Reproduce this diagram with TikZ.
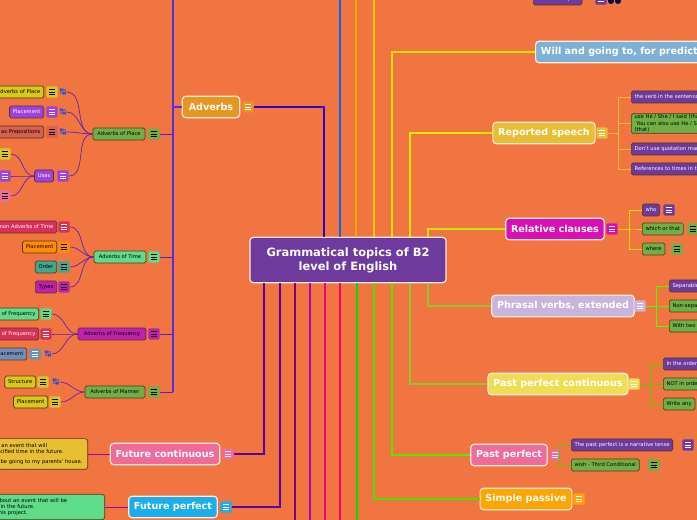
\documentclass[tikz,border=0pt]{standalone}
\usepackage{fontspec}
\setmainfont{DejaVu Sans}
\begin{document}
\begin{tikzpicture}[x=0.75pt,y=-0.75pt,
  main/.style={rounded corners=2.5pt,draw=white!85!orange,line width=0.9pt,text=white,font=\bfseries\fontsize{7.2}{8.5}\selectfont,minimum height=16pt,inner xsep=4pt},
  sm/.style={rounded corners=1.2pt,draw=black!55!brown,line width=0.5pt,font=\fontsize{3.9}{4.6}\selectfont,minimum height=9pt,inner xsep=2.5pt,inner ysep=1pt},
  ic/.style={minimum size=8.5pt,inner sep=0pt,rounded corners=1pt,path picture={\foreach \yy in {-1.8,0,1.8}\draw[line width=0.55pt,#1] ([xshift=-2.4pt,yshift=\yy pt]path picture bounding box.center) -- ++(4.8pt,0);}},
  lk/.style={text=blue!70!cyan,font=\bfseries\fontsize{6}{6}\selectfont,inner sep=0pt},
  cn/.style={line width=0.9pt},
  tn/.style={line width=0.5pt}]
\definecolor{bg}{HTML}{F07540}
\definecolor{pur}{HTML}{6E3A9E}
\definecolor{grn}{HTML}{6FAF45}
\definecolor{ylw}{HTML}{D8C81A}
\definecolor{lblue}{HTML}{7FB1D6}
\definecolor{gold}{HTML}{E8BE35}
\definecolor{mag}{HTML}{D90FB5}
\definecolor{lav}{HTML}{C8B4DC}
\definecolor{pyel}{HTML}{EEDD55}
\definecolor{pink}{HTML}{F06A9A}
\definecolor{org}{HTML}{FFA500}
\definecolor{adv}{HTML}{E8961E}
\definecolor{cyanb}{HTML}{1AAEEA}
\definecolor{mint}{HTML}{5EDC8A}
\definecolor{lpur}{HTML}{A040E0}
\definecolor{red1}{HTML}{D8305A}
\definecolor{sal}{HTML}{D86050}
\definecolor{teal1}{HTML}{40A890}
\definecolor{mag2}{HTML}{C020B0}
\definecolor{bgray}{HTML}{7090B8}
\definecolor{lnblue}{HTML}{5030E0}
\fill[bg] (0,0) rectangle (697,520);
\useasboundingbox (0,0) rectangle (697,520);

% ---------- center ----------
\node[main,fill=pur,minimum width=147pt,minimum height=34pt,align=center,font=\bfseries\fontsize{8.6}{10.5}\selectfont] (c) at (348,260) {Grammatical topics of B2\\level of English};

% ---------- right main nodes ----------
\node[sm,fill=pur,text=white,anchor=west] (wp) at (533,-1) {will' for the past};
\node[ic=white,fill=pur] (wpi) at (601,-1) {};
\fill[black!70!blue] (611,1) circle (3) (618,1) circle (3);

\node[main,fill=lblue,anchor=west,minimum width=130pt] (wg) at (535,52) {Will and going to, for predictions};
\node[main,fill=gold,minimum width=75pt] (rs) at (544,133) {Reported speech};
\node[ic=white,fill=gold] (rsi) at (602,133) {};
\node[main,fill=mag,minimum width=73pt] (rc) at (555,229) {Relative clauses};
\node[ic=white,fill=mag] (rci) at (612,229) {};
\node[main,fill=lav,minimum width=103pt] (pv) at (563,306) {Phrasal verbs, extended};
\node[ic=white,fill=lav] (pvi) at (640,306) {};
\node[main,fill=pyel,minimum width=101pt] (ppc) at (558,384) {Past perfect continuous};
\node[ic=white,fill=pyel] (ppci) at (634,384) {};
\node[main,fill=pink,minimum width=57pt] (pp) at (509,455) {Past perfect};
\node[ic=white,fill=pink] (ppi) at (555,455) {};
\node[main,fill=org,minimum width=67pt] (sp) at (526,499) {Simple passive};
\node[ic=white,fill=org] (spi) at (579,499) {};

% ---------- left main nodes ----------
\node[main,fill=adv,minimum width=43pt] (ad) at (211,107) {Adverbs};
\node[ic=white,fill=adv] (adi) at (248,107) {};
\node[main,fill=pink,minimum width=81pt] (fc) at (165,454) {Future continuous};
\node[ic=white,fill=pink] (fci) at (228,454) {};
\node[main,fill=cyanb,minimum width=66pt] (fp) at (173,507) {Future perfect};
\node[ic=white,fill=cyanb] (fpi) at (226,507) {};

% ---------- center trunks top ----------
\draw[cn,blue!60!violet] (c.north -| 324,0) |- (adi.east);
\draw[cn,blue!60!cyan] (c.north -| 340,0) -- (340,0);
\draw[cn,orange!70!yellow] (c.north -| 356,0) -- (356,0);
\draw[cn,orange!40!yellow] (c.north -| 374,0) -- (374,0);
\draw[cn,yellow!85!orange] (c.north -| 392,0) |- (wg.west);
\draw[cn,yellow!90!orange] (c.north -| 410,0) |- (rs.west);
\draw[cn,yellow!80!green] (c.north -| 428,0) |- (rc.west);
% ---------- center trunks bottom ----------
\draw[cn,violet!70!blue] (c.south -| 264,0) |- (fci.east);
\draw[cn,violet!70!blue] (c.south -| 280,0) |- (fpi.east);
\draw[cn,violet] (c.south -| 295,0) -- (295,520);
\draw[cn,violet!60!magenta] (c.south -| 310,0) -- (310,520);
\draw[cn,magenta] (c.south -| 325,0) -- (325,520);
\draw[cn,magenta!70!red] (c.south -| 340,0) -- (340,520);
\draw[cn,green!80!black!70!green] (c.south -| 357,0) -- (357,520);
\draw[cn,green!70!yellow!90!black] (c.south -| 374,0) |- (sp.west);
\draw[cn,green!60!yellow!90!black] (c.south -| 392,0) |- (pp.west);
\draw[cn,yellow!60!green!90!black] (c.south -| 410,0) |- (ppc.west);
\draw[cn,yellow!60!green!90!black] (c.south -| 428,0) |- (pv.west);

% ---------- reported speech children ----------
\node[sm,fill=pur,text=white,anchor=west] (r1) at (631,97) {the verb in the sentence changes};
\node[sm,fill=grn,anchor=west,align=left,text width=70pt] (r2) at (631,123.5) {use He / She / I said (that)\\\ You can also use He / She told me\\(that)};
\node[sm,fill=pur,text=white,anchor=west] (r3) at (631,149) {Don't use quotation marks};
\node[sm,fill=pur,text=white,anchor=west] (r4) at (631,169) {References to times in the sentence};
\foreach \n in {r1,r2,r3,r4} \draw[tn,gold] (rsi.east) -| (618,0 |- \n.west) -- (\n.west);

% ---------- relative clauses children ----------
\node[sm,fill=pur,text=white,anchor=west] (q1) at (642,210) {who};
\node[ic=white,fill=pur] (q1i) at (669,210) {};
\node[sm,fill=grn,anchor=west] (q2) at (642,229) {which or that};
\node[ic=black,fill=grn] (q2i) at (693,229) {};
\node[sm,fill=grn,anchor=west] (q3) at (642,249) {where};
\node[ic=black,fill=grn] (q3i) at (677,249) {};
\foreach \n in {q1,q2,q3} \draw[tn,yellow!80!orange] (rci.east) -| (629,0 |- \n.west) -- (\n.west);

% ---------- phrasal verbs children ----------
\node[sm,fill=pur,text=white,anchor=west] (h1) at (669,286) {Separable};
\node[sm,fill=grn,anchor=west] (h2) at (669,306) {Non-separable};
\node[sm,fill=grn,anchor=west] (h3) at (669,326) {With two particles};
\foreach \n in {h1,h2,h3} \draw[tn,green!70!yellow] (pvi.east) -| (656,0 |- \n.west) -- (\n.west);

% ---------- past perfect continuous children ----------
\node[sm,fill=pur,text=white,anchor=west] (k1) at (663,364) {In the order};
\node[sm,fill=grn,anchor=west] (k2) at (663,384) {NOT in order};
\node[sm,fill=grn,anchor=west] (k3) at (663,404) {Write any};
\foreach \n in {k1,k2,k3} \draw[tn,green!60!yellow!80!black] (ppci.east) -| (650,0 |- \n.west) -- (\n.west);

% ---------- past perfect children ----------
\node[sm,fill=pur,text=white,anchor=west] (p1) at (571,445) {The past perfect is a narrative tense};
\node[ic=white,fill=pur] (p1i) at (688,445) {};
\node[sm,fill=grn,anchor=west] (p2) at (571,465) {wish - Third Conditional};
\node[ic=black,fill=grn] (p2i) at (654,465) {};
\foreach \n in {p1,p2} \draw[tn,green!60!yellow!80!black] (ppi.east) -| (559,0 |- \n.west) -- (\n.west);

% ---------- adverbs subtree ----------
\draw[cn,lnblue] (173,0) -- (173,392);
\draw[cn,lnblue] (ad.west) -- (173,107);
\node[sm,fill=grn,minimum width=39pt] (ap) at (119,134) {Adverbs of Place};
\node[ic=black,fill=grn] (api) at (154,134) {};
\node[sm,fill=mint,minimum width=39pt] (at) at (120,257) {Adverbs of Time};
\node[ic=black,fill=mint] (ati) at (154,257) {};
\node[sm,fill=mag2,minimum width=51pt] (af) at (112,334) {Adverbs of Frequency};
\node[ic=black,fill=mag2] (afi) at (154,334) {};
\node[sm,fill=grn,minimum width=45pt] (am) at (115,392) {Adverbs of Manner};
\node[ic=black,fill=grn] (ami) at (154,392) {};
\foreach \n in {api,ati,afi,ami} \draw[tn,lnblue!70!violet] (\n.east) -- (173,0 |- \n.east);

% place children
\node[sm,fill=ylw,anchor=east] (a1) at (44,92) {Types of Adverbs of Place};
\node[ic=black,fill=ylw] (a1i) at (52,92) {};
\node[lk] (a1l) at (63,92) {\char"21B9};
\node[sm,fill=lpur,text=white,anchor=east] (a2) at (44,112) {Placement};
\node[ic=white,fill=lpur] (a2i) at (52,112) {};
\node[lk] (a2l) at (63,112) {\char"21B9};
\node[sm,fill=sal,anchor=east] (a3) at (44,132) {Adverbs as Prepositions};
\node[ic=black,fill=sal] (a3i) at (52,132) {};
\node[lk] (a3l) at (63,132) {\char"21B9};
\node[sm,fill=lpur,text=white] (a4) at (44,176) {Uses};
\node[ic=white,fill=lpur] (a4i) at (63,176) {};
\node[ic=black,fill=ylw] (u1) at (5,154) {};
\node[ic=white,fill=lpur] (u2) at (5,176) {};
\node[ic=black,fill=pink] (u3) at (5,196) {};
\foreach \n in {a1l,a2l,a3l,a4i} \draw[tn,lnblue!60!violet] (\n.east) to[out=0,in=180] (ap.west);
\foreach \n in {u1,u2,u3} \draw[tn,lnblue!60!violet] (\n.east) to[out=0,in=180] (a4.west);

% time children
\node[sm,fill=red1,text=white,anchor=east] (t1) at (57,227) {Common Adverbs of Time};
\node[ic=white,fill=red1] (t1i) at (64,227) {};
\node[sm,fill=orange!90!yellow,anchor=east] (t2) at (57,247) {Placement};
\node[ic=black,fill=orange!90!yellow] (t2i) at (64,247) {};
\node[sm,fill=teal1,anchor=east] (t3) at (57,267) {Order};
\node[ic=black,fill=teal1] (t3i) at (64,267) {};
\node[sm,fill=mag2,anchor=east] (t4) at (57,287) {Types};
\node[ic=black,fill=mag2] (t4i) at (64,287) {};
\foreach \n in {t1i,t2i,t3i,t4i} \draw[tn,lnblue!60!violet] (\n.east) to[out=0,in=180] (at.west);

% frequency children
\node[sm,fill=mint,anchor=east] (f1) at (39,314) {Adverbs of Frequency};
\node[ic=black,fill=mint] (f1i) at (46,314) {};
\node[sm,fill=red1,text=white,anchor=east] (f2) at (39,334) {Adverbs of Frequency};
\node[ic=white,fill=red1] (f2i) at (46,334) {};
\node[sm,fill=bgray,anchor=east] (f3) at (27,354) {Placement};
\node[ic=white,fill=bgray] (f3i) at (35,354) {};
\node[lk] (f3l) at (48,354) {\char"21B9};
\foreach \n in {f1i,f2i,f3l} \draw[tn,lnblue!60!violet] (\n.east) to[out=0,in=180] (af.west);

% manner children
\node[sm,fill=ylw,anchor=east] (m1) at (36,382) {Structure};
\node[ic=black,fill=ylw] (m1i) at (43,382) {};
\node[lk] (m1l) at (56,382) {\char"21B9};
\node[sm,fill=ylw,anchor=east] (m2) at (48,402) {Placement};
\node[ic=black,fill=ylw] (m2i) at (55,402) {};
\foreach \n in {m1l,m2i} \draw[tn,lnblue!60!violet] (\n.east) to[out=0,in=180] (am.west);

% ---------- future texts ----------
\node[sm,fill=gold,anchor=east,align=left,text width=108pt,minimum height=23pt,rounded corners=2pt] (fct) at (88,454) {We use it to talk about an event that will\\be in progress at a specified time in the future.\\[3pt]This time tomorrow I'll be going to my parents' house.};
\draw[tn,violet!70!magenta] (fct.east) -- (fc.west);
\node[sm,fill=mint,anchor=east,align=left,text width=144pt,minimum height=19pt,rounded corners=2pt] (fpt) at (105,507) {We use the future perfect to talk about an event that will be\\completed before a specified time in the future.\\By next week I will have finished this project.};
\draw[tn,violet!70!magenta] (fpt.east) -- (fp.west);
\end{tikzpicture}
\end{document}
